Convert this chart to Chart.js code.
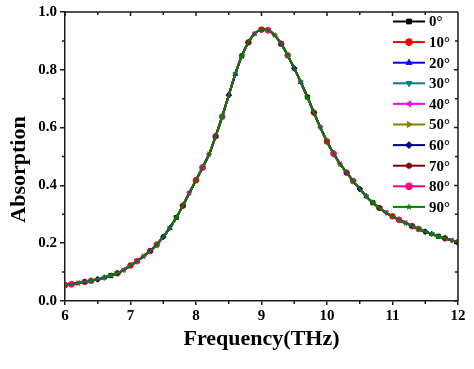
<!DOCTYPE html>
<html>
<head>
<meta charset="utf-8">
<script src="https://cdn.jsdelivr.net/npm/chart.js@4.4.1/dist/chart.umd.min.js"></script>
<style>
  html, body { margin: 0; padding: 0; background: #fff; }
</style>
</head>
<body>
<canvas id="absorption-chart" width="474" height="369"></canvas>
<script>
// ── Data ────────────────────────────────────────────────────────────────────
const freq = [
    6.0, 6.1, 6.2, 6.3, 6.4, 6.5, 6.6, 6.7, 6.8, 6.9,
    7.0, 7.1, 7.2, 7.3, 7.4, 7.5, 7.6, 7.7, 7.8, 7.9,
    8.0, 8.1, 8.2, 8.3, 8.4, 8.5, 8.6, 8.7, 8.8, 8.9,
    9.0, 9.1, 9.2, 9.3, 9.4, 9.5, 9.6, 9.7, 9.8, 9.9,
    10.0, 10.1, 10.2, 10.3, 10.4, 10.5, 10.6, 10.7, 10.8, 10.9,
    11.0, 11.1, 11.2, 11.3, 11.4, 11.5, 11.6, 11.7, 11.8, 11.9,
    12.0
];
const absorption = [
    0.055, 0.058, 0.062, 0.066, 0.070, 0.075, 0.081, 0.088, 0.096, 0.108,
    0.123, 0.138, 0.155, 0.173, 0.195, 0.222, 0.253, 0.289, 0.330, 0.375,
    0.418, 0.462, 0.508, 0.570, 0.638, 0.712, 0.785, 0.848, 0.895, 0.926,
    0.939, 0.937, 0.920, 0.890, 0.850, 0.805, 0.757, 0.706, 0.652, 0.600,
    0.552, 0.510, 0.474, 0.444, 0.415, 0.388, 0.362, 0.340, 0.322, 0.306,
    0.293, 0.281, 0.270, 0.259, 0.249, 0.240, 0.232, 0.224, 0.217, 0.210,
    0.203
];
const angles       = ['0°', '10°', '20°', '30°', '40°', '50°', '60°', '70°', '80°', '90°'];
const seriesColors = ['#000000', '#FF0000', '#0000FF', '#008080', '#FF00FF',
                      '#808000', '#000080', '#800000', '#FF0080', '#008000'];
const xTicks      = [6, 7, 8, 9, 10, 11, 12];
const xMinorTicks = [6.5, 7.5, 8.5, 9.5, 10.5, 11.5];
const yTicks      = [0, 0.2, 0.4, 0.6, 0.8, 1.0];
const yMinorTicks = [0.1, 0.3, 0.5, 0.7, 0.9];

const FONT   = "'Liberation Serif', 'Times New Roman', serif";
const AXIS_C = '#1a1a1a';

// ── Marker shapes that Chart.js has no name for ────────────────────────────
function polygonMarker(color, sides, outer, inner) {
    const size = 8;
    const c = document.createElement('canvas');
    c.width = size; c.height = size;
    const g = c.getContext('2d');
    const n = inner ? sides * 2 : sides;
    g.beginPath();
    for (let k = 0; k < n; k++) {
        const r = inner && k % 2 ? inner : outer;
        const a = -Math.PI / 2 + k * Math.PI * 2 / n;
        const px = size / 2 + r * Math.cos(a);
        const py = size / 2 + r * Math.sin(a);
        k ? g.lineTo(px, py) : g.moveTo(px, py);
    }
    g.closePath();
    g.fillStyle = color;
    g.fill();
    return c;
}

const pointStyles = ['rect', 'circle', 'triangle', 'triangle', 'triangle', 'triangle',
                     'rectRot', polygonMarker(seriesColors[7], 6, 3.3), 'circle',
                     polygonMarker(seriesColors[9], 5, 3.8, 1.6)];
const pointRotations = [0, 0, 0, 180, -90, 90, 0, 0, 0, 0];

// ── Plugins: frame with mirrored/minor ticks, legend inside plot, y title ──
const framePlugin = {
    id: 'frame',
    afterDraw(chart) {
        const { ctx, chartArea: a, scales: { x, y } } = chart;
        ctx.save();
        ctx.strokeStyle = AXIS_C;
        ctx.lineWidth = 1.5;
        ctx.beginPath();
        ctx.moveTo(a.left, a.top);  ctx.lineTo(a.right, a.top);
        ctx.moveTo(a.right, a.top); ctx.lineTo(a.right, a.bottom);
        // bottom / left minor ticks, outward
        xMinorTicks.forEach(v => {
            const px = x.getPixelForValue(v);
            ctx.moveTo(px, a.bottom); ctx.lineTo(px, a.bottom + 3);
        });
        yMinorTicks.forEach(v => {
            const py = y.getPixelForValue(v);
            ctx.moveTo(a.left, py); ctx.lineTo(a.left - 3, py);
        });
        // top / right ticks, inward
        xTicks.forEach(v => {
            const px = x.getPixelForValue(v);
            ctx.moveTo(px, a.top); ctx.lineTo(px, a.top + 4);
        });
        xMinorTicks.forEach(v => {
            const px = x.getPixelForValue(v);
            ctx.moveTo(px, a.top); ctx.lineTo(px, a.top + 3);
        });
        yTicks.forEach(v => {
            const py = y.getPixelForValue(v);
            ctx.moveTo(a.right, py); ctx.lineTo(a.right - 4, py);
        });
        yMinorTicks.forEach(v => {
            const py = y.getPixelForValue(v);
            ctx.moveTo(a.right, py); ctx.lineTo(a.right - 3, py);
        });
        ctx.stroke();

        // y axis title
        ctx.translate(19, (a.top + a.bottom) / 2 + 13);
        ctx.rotate(-Math.PI / 2);
        ctx.font = `bold 22px ${FONT}`;
        ctx.fillStyle = '#000';
        ctx.textAlign = 'center';
        ctx.textBaseline = 'middle';
        ctx.fillText('Absorption', 0, 0);
        ctx.restore();
    },
};

const legendPlugin = {
    id: 'plotLegend',
    afterDraw(chart) {
        const { ctx, chartArea: a } = chart;
        const drawPoint = Chart.helpers && Chart.helpers.drawPoint;
        ctx.save();
        ctx.font = `bold 15px ${FONT}`;
        ctx.textBaseline = 'middle';
        ctx.textAlign = 'left';
        chart.data.datasets.forEach((ds, i) => {
            const yy = a.top + 9.5 + i * 20.6;
            const x0 = a.right - 65, x1 = a.right - 33;
            ctx.strokeStyle = ds.borderColor;
            ctx.fillStyle   = ds.borderColor;
            ctx.lineWidth   = 2;
            ctx.beginPath();
            ctx.moveTo(x0, yy); ctx.lineTo(x1, yy);
            ctx.stroke();
            if (drawPoint) {
                ctx.lineWidth = 1;
                drawPoint(ctx, {
                    pointStyle: ds.pointStyle,
                    rotation:   ds.pointRotation,
                    radius:     3.4,
                    borderWidth: 1,
                }, (x0 + x1) / 2, yy);
            }
            ctx.fillStyle = '#000';
            ctx.fillText(angles[i], a.right - 29, yy + 1);
        });
        ctx.restore();
    },
};

// ── Chart ──────────────────────────────────────────────────────────────────
const points = freq.map((f, k) => ({ x: f, y: absorption[k] }));

// every series shares the same curve; markers are spread so each colour shows
const datasets = angles.map((label, i) => ({
    label,
    data:            points,
    borderColor:     seriesColors[i],
    backgroundColor: seriesColors[i],
    borderWidth:     2,
    pointStyle:      pointStyles[i],
    pointRotation:   pointRotations[i],
    pointRadius:     ctx => ((ctx.dataIndex * 3 + i) % 10 < 2 ? 2.8 : 0),
    pointBorderWidth: 1,
    tension:         0.3,
    order:           angles.length - 1 - i,
}));

new Chart(document.getElementById('absorption-chart'), {
    type: 'line',
    data: { datasets },
    plugins: [framePlugin, legendPlugin],
    options: {
        responsive: false,
        animation:  false,
        layout: { padding: { left: 0, right: 16, top: 11, bottom: 0 } },
        plugins: {
            legend:  { display: false },
            tooltip: { enabled: false },
        },
        scales: {
            x: {
                type: 'linear',
                min: 6, max: 12,
                afterBuildTicks: s => { s.ticks = xTicks.map(v => ({ value: v })); },
                afterFit: s => { s.height = 68; },
                ticks: {
                    color: '#000',
                    padding: 2,
                    maxRotation: 0,
                    font: { family: FONT, size: 15, weight: 'bold' },
                    callback: v => String(v),
                },
                grid:   { drawOnChartArea: false, drawTicks: true, tickLength: 4, color: AXIS_C, lineWidth: 1.5 },
                border: { display: true, color: AXIS_C, width: 1.5 },
                title: {
                    display: true,
                    text: 'Frequency(THz)',
                    color: '#000',
                    font: { family: FONT, size: 22, weight: 'bold' },
                    padding: { top: 0, bottom: 16 },
                },
            },
            y: {
                type: 'linear',
                min: 0, max: 1,
                afterBuildTicks: s => { s.ticks = yTicks.map(v => ({ value: v })); },
                afterFit: s => { s.width = 65; },
                ticks: {
                    color: '#000',
                    padding: 3,
                    font: { family: FONT, size: 15, weight: 'bold' },
                    callback: v => v.toFixed(1),
                },
                grid:   { drawOnChartArea: false, drawTicks: true, tickLength: 5, color: AXIS_C, lineWidth: 1.5 },
                border: { display: true, color: AXIS_C, width: 1.5 },
            },
        },
    },
});
</script>
</body>
</html>
